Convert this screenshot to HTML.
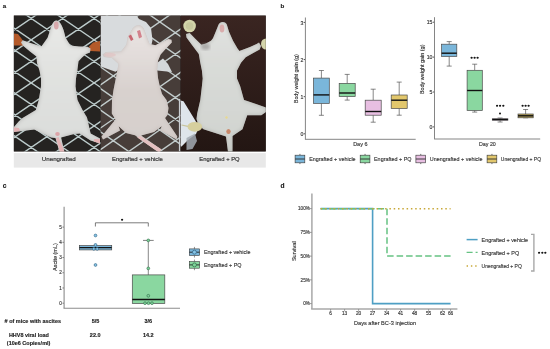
<!DOCTYPE html>
<html><head><meta charset="utf-8"><title>Figure</title>
<style>html,body{margin:0;padding:0;background:#fff;}svg{display:block;}</style></head>
<body><svg width="550" height="349" viewBox="0 0 550 349" font-family="'Liberation Sans', Arial, sans-serif">
<rect width="550" height="349" fill="#fff"/>
<defs>
<clipPath id="c1"><rect x="13.8" y="15.5" width="86.8" height="136.0"/></clipPath>
<clipPath id="c2"><rect x="100.6" y="15.5" width="79.9" height="136.0"/></clipPath>
<clipPath id="c3"><rect x="180.5" y="15.5" width="85.30000000000001" height="136.0"/></clipPath>
<filter id="soft" x="-10%" y="-10%" width="120%" height="120%"><feGaussianBlur stdDeviation="0.7"/></filter>
<filter id="meshsoft" x="-5%" y="-5%" width="110%" height="110%"><feGaussianBlur stdDeviation="0.35"/></filter>
<filter id="soft2" x="-10%" y="-10%" width="120%" height="120%"><feGaussianBlur stdDeviation="1.6"/></filter>
</defs>
<rect x="13.80" y="15.50" width="252.00" height="136.00" fill="#2c2624" stroke="none" stroke-width="0" />
<g clip-path="url(#c1)">
<rect x="13.80" y="15.50" width="86.80" height="136.00" fill="#252321" stroke="none" stroke-width="0" />
<path d="M8.8,-426.9L105.6,-360.7M8.8,-396.3L105.6,-462.5M8.8,-405.4L105.6,-339.2M8.8,-374.8L105.6,-441.0M8.8,-383.9L105.6,-317.7M8.8,-353.3L105.6,-419.5M8.8,-362.4L105.6,-296.2M8.8,-331.8L105.6,-398.0M8.8,-340.9L105.6,-274.7M8.8,-310.3L105.6,-376.5M8.8,-319.4L105.6,-253.2M8.8,-288.8L105.6,-355.0M8.8,-297.9L105.6,-231.7M8.8,-267.3L105.6,-333.5M8.8,-276.4L105.6,-210.2M8.8,-245.8L105.6,-312.0M8.8,-254.9L105.6,-188.7M8.8,-224.3L105.6,-290.5M8.8,-233.4L105.6,-167.2M8.8,-202.8L105.6,-269.0M8.8,-211.9L105.6,-145.7M8.8,-181.3L105.6,-247.5M8.8,-190.4L105.6,-124.2M8.8,-159.8L105.6,-226.0M8.8,-168.9L105.6,-102.7M8.8,-138.3L105.6,-204.5M8.8,-147.4L105.6,-81.2M8.8,-116.8L105.6,-183.0M8.8,-125.9L105.6,-59.7M8.8,-95.3L105.6,-161.5M8.8,-104.4L105.6,-38.2M8.8,-73.8L105.6,-140.0M8.8,-82.9L105.6,-16.7M8.8,-52.3L105.6,-118.5M8.8,-61.4L105.6,4.8M8.8,-30.8L105.6,-97.0M8.8,-39.9L105.6,26.3M8.8,-9.3L105.6,-75.5M8.8,-18.4L105.6,47.8M8.8,12.2L105.6,-54.0M8.8,3.1L105.6,69.3M8.8,33.7L105.6,-32.5M8.8,24.6L105.6,90.8M8.8,55.2L105.6,-11.0M8.8,46.1L105.6,112.3M8.8,76.7L105.6,10.5M8.8,67.6L105.6,133.8M8.8,98.2L105.6,32.0M8.8,89.1L105.6,155.3M8.8,119.7L105.6,53.5M8.8,110.6L105.6,176.8M8.8,141.2L105.6,75.0M8.8,132.1L105.6,198.3M8.8,162.7L105.6,96.5M8.8,153.6L105.6,219.8M8.8,184.2L105.6,118.0M8.8,175.1L105.6,241.3M8.8,205.7L105.6,139.5M8.8,196.6L105.6,262.8M8.8,227.2L105.6,161.0M8.8,218.1L105.6,284.3M8.8,248.7L105.6,182.5M8.8,239.6L105.6,305.8M8.8,270.2L105.6,204.0M8.8,261.1L105.6,327.3M8.8,291.7L105.6,225.5M8.8,282.6L105.6,348.8M8.8,313.2L105.6,247.0M8.8,304.1L105.6,370.3M8.8,334.7L105.6,268.5M8.8,325.6L105.6,391.8M8.8,356.2L105.6,290.0M8.8,347.1L105.6,413.3M8.8,377.7L105.6,311.5M8.8,368.6L105.6,434.8M8.8,399.2L105.6,333.0M8.8,390.1L105.6,456.3M8.8,420.7L105.6,354.5M8.8,411.6L105.6,477.8M8.8,442.2L105.6,376.0M8.8,433.1L105.6,499.3M8.8,463.7L105.6,397.5" stroke="#bccbcb" stroke-width="1.4" fill="none" filter="url(#meshsoft)"/>
<path d="M14,33.5 L18,34 L22.6,40 L23,45.6 L14,45.6 Z" fill="#b45a2a" filter="url(#soft)"/>
<path d="M100,41 L93,42.5 L89,46.5 L90,51 L100,51.5 Z" fill="#b45a2a" filter="url(#soft)"/>
<linearGradient id="gm1" gradientUnits="userSpaceOnUse" x1="0" y1="15.5" x2="0" y2="151.5"><stop offset="0" stop-color="#eaeae8"/><stop offset="0.35" stop-color="#e2e3e1"/><stop offset="1" stop-color="#dadcda"/></linearGradient>
<clipPath id="mk1"><path d="M56.2,20.5 C59.5,20.5 62,25 63.7,30.6 L65.6,37.8 L70.3,45.6 L79,46.5 L87.5,46.8 L90.5,48.5 L90,52.5 L86,54 L82,57.5 L78.5,61.3 L77.3,70.6 L76,78.5 L75.5,86.3 L77.5,100 L82.5,110 L87,117.5 L90.6,133.5 L100,138.5 L100,143.5 L90.6,140.5 L79.7,133.5 L74,134 L61,137.5 L64.5,152 L59.5,152 L55.5,138 L51,137.5 L34.3,129.5 L20.3,131.3 L14,131.8 L14,127 L18.7,121.5 L22.6,118 L35.9,110 L38.8,100 L41,86.3 L41,78.5 L39.5,70.6 L37,63 L36.5,56.6 L30,51.5 L23.4,46 L21,42.5 L22.6,40.2 L32,43.5 L41.4,46.4 L47.6,37.8 L50,30.6 C51.5,25 53.5,20.5 56.2,20.5 Z"/></clipPath>
<path d="M56.2,20.5 C59.5,20.5 62,25 63.7,30.6 L65.6,37.8 L70.3,45.6 L79,46.5 L87.5,46.8 L90.5,48.5 L90,52.5 L86,54 L82,57.5 L78.5,61.3 L77.3,70.6 L76,78.5 L75.5,86.3 L77.5,100 L82.5,110 L87,117.5 L90.6,133.5 L100,138.5 L100,143.5 L90.6,140.5 L79.7,133.5 L74,134 L61,137.5 L64.5,152 L59.5,152 L55.5,138 L51,137.5 L34.3,129.5 L20.3,131.3 L14,131.8 L14,127 L18.7,121.5 L22.6,118 L35.9,110 L38.8,100 L41,86.3 L41,78.5 L39.5,70.6 L37,63 L36.5,56.6 L30,51.5 L23.4,46 L21,42.5 L22.6,40.2 L32,43.5 L41.4,46.4 L47.6,37.8 L50,30.6 C51.5,25 53.5,20.5 56.2,20.5 Z" fill="#b4b4b2" filter="url(#soft)"/>
<g clip-path="url(#mk1)"><path d="M56.2,20.5 C59.5,20.5 62,25 63.7,30.6 L65.6,37.8 L70.3,45.6 L79,46.5 L87.5,46.8 L90.5,48.5 L90,52.5 L86,54 L82,57.5 L78.5,61.3 L77.3,70.6 L76,78.5 L75.5,86.3 L77.5,100 L82.5,110 L87,117.5 L90.6,133.5 L100,138.5 L100,143.5 L90.6,140.5 L79.7,133.5 L74,134 L61,137.5 L64.5,152 L59.5,152 L55.5,138 L51,137.5 L34.3,129.5 L20.3,131.3 L14,131.8 L14,127 L18.7,121.5 L22.6,118 L35.9,110 L38.8,100 L41,86.3 L41,78.5 L39.5,70.6 L37,63 L36.5,56.6 L30,51.5 L23.4,46 L21,42.5 L22.6,40.2 L32,43.5 L41.4,46.4 L47.6,37.8 L50,30.6 C51.5,25 53.5,20.5 56.2,20.5 Z" fill="url(#gm1)" filter="url(#inmk1)"/></g>
<filter id="inmk1" x="-20%" y="-20%" width="140%" height="140%"><feGaussianBlur stdDeviation="2.2"/></filter>
<ellipse cx="56.3" cy="25.5" rx="2.4" ry="4" fill="#d8a0a4" opacity="0.85" filter="url(#soft)"/>
<path d="M58.5,137 L64.5,152 L60,152 L56,138 Z" fill="#e4b4b6" filter="url(#soft)"/>
<ellipse cx="57.5" cy="134" rx="2.3" ry="2" fill="#dca4a8" filter="url(#soft)"/>
<path d="M14,127.5 L19,128 L20,131 L14,132 Z" fill="#e2b2b4" filter="url(#soft)"/>
<path d="M94,139 L100,139 L100,143.5 L94,141.5 Z" fill="#e2b2b4" filter="url(#soft)"/>
</g>
<g clip-path="url(#c2)">
<rect x="100.60" y="15.50" width="79.90" height="136.00" fill="#473d39" stroke="none" stroke-width="0" />
<path d="M95.6,-454.8L185.5,-392.2M95.6,-365.4L185.5,-428.0M95.6,-433.2L185.5,-370.6M95.6,-343.8L185.5,-406.4M95.6,-411.6L185.5,-349.0M95.6,-322.2L185.5,-384.8M95.6,-390.0L185.5,-327.4M95.6,-300.6L185.5,-363.2M95.6,-368.4L185.5,-305.8M95.6,-279.0L185.5,-341.6M95.6,-346.8L185.5,-284.2M95.6,-257.4L185.5,-320.0M95.6,-325.2L185.5,-262.6M95.6,-235.8L185.5,-298.4M95.6,-303.6L185.5,-241.0M95.6,-214.2L185.5,-276.8M95.6,-282.0L185.5,-219.4M95.6,-192.6L185.5,-255.2M95.6,-260.4L185.5,-197.8M95.6,-171.0L185.5,-233.6M95.6,-238.8L185.5,-176.2M95.6,-149.4L185.5,-212.0M95.6,-217.2L185.5,-154.6M95.6,-127.8L185.5,-190.4M95.6,-195.6L185.5,-133.0M95.6,-106.2L185.5,-168.8M95.6,-174.0L185.5,-111.4M95.6,-84.6L185.5,-147.2M95.6,-152.4L185.5,-89.8M95.6,-63.0L185.5,-125.6M95.6,-130.8L185.5,-68.2M95.6,-41.4L185.5,-104.0M95.6,-109.2L185.5,-46.6M95.6,-19.8L185.5,-82.4M95.6,-87.6L185.5,-25.0M95.6,1.8L185.5,-60.8M95.6,-66.0L185.5,-3.4M95.6,23.4L185.5,-39.2M95.6,-44.4L185.5,18.2M95.6,45.0L185.5,-17.6M95.6,-22.8L185.5,39.8M95.6,66.6L185.5,4.0M95.6,-1.2L185.5,61.4M95.6,88.2L185.5,25.6M95.6,20.4L185.5,83.0M95.6,109.8L185.5,47.2M95.6,42.0L185.5,104.6M95.6,131.4L185.5,68.8M95.6,63.6L185.5,126.2M95.6,153.0L185.5,90.4M95.6,85.2L185.5,147.8M95.6,174.6L185.5,112.0M95.6,106.8L185.5,169.4M95.6,196.2L185.5,133.6M95.6,128.4L185.5,191.0M95.6,217.8L185.5,155.2M95.6,150.0L185.5,212.6M95.6,239.4L185.5,176.8M95.6,171.6L185.5,234.2M95.6,261.0L185.5,198.4M95.6,193.2L185.5,255.8M95.6,282.6L185.5,220.0M95.6,214.8L185.5,277.4M95.6,304.2L185.5,241.6M95.6,236.4L185.5,299.0M95.6,325.8L185.5,263.2M95.6,258.0L185.5,320.6M95.6,347.4L185.5,284.8M95.6,279.6L185.5,342.2M95.6,369.0L185.5,306.4M95.6,301.2L185.5,363.8M95.6,390.6L185.5,328.0M95.6,322.8L185.5,385.4M95.6,412.2L185.5,349.6M95.6,344.4L185.5,407.0M95.6,433.8L185.5,371.2M95.6,366.0L185.5,428.6M95.6,455.4L185.5,392.8M95.6,387.6L185.5,450.2M95.6,477.0L185.5,414.4M95.6,409.2L185.5,471.8M95.6,498.6L185.5,436.0" stroke="#c2cccc" stroke-width="1.4" fill="none" filter="url(#meshsoft)"/>
<path d="M100.6,15.5 L136.5,15.5 L139,19 L146,22 L151,28 L152.5,40 L151,47 L138,58 L124,66 L115.5,71.7 L100.6,66.5 Z" fill="#d8dbdd" filter="url(#soft)"/>
<path d="M157,63 L163,58.5 L168,64 L172,72 L157,70.5 Z" fill="#d4d8da" filter="url(#soft)"/>
<linearGradient id="gm2" gradientUnits="userSpaceOnUse" x1="0" y1="15.5" x2="0" y2="151.5"><stop offset="0" stop-color="#ece8e6"/><stop offset="0.3" stop-color="#e2dcda"/><stop offset="0.55" stop-color="#d8d1ce"/><stop offset="1" stop-color="#d6cfcc"/></linearGradient>
<clipPath id="mk2"><path d="M138.5,25.3 C141,25.3 143.5,27 144.7,31 L147,37.3 L149.5,44 L155.5,45.3 L162,42 L168.4,39 L171.5,39.8 L171.8,42.5 L166,48.5 L160.6,54.5 L158,60.8 L157.2,69.4 L158,78 L159.8,86.6 L162,94 L166.5,100 L168.5,108 L167.5,115 L165,118 L177.3,136.5 L176.5,139.5 L160.3,130.5 L161.8,126 L154,132 L141,135.5 L161.5,149.5 L159,152.5 L137.5,137.5 L136,135.5 L126,133 L118.5,126 L120,130.5 L103,139.5 L101.5,136.5 L115.5,119.6 L111.8,113.5 L112,100 L113.5,90 L116.5,75 L118.5,64 L112,58 L104,57 L102.5,54.5 L106,52 L121,51.5 L126.5,44.5 L127.5,37.3 L133,28 C135,26 136.5,25.3 138.5,25.3 Z"/></clipPath>
<path d="M138.5,25.3 C141,25.3 143.5,27 144.7,31 L147,37.3 L149.5,44 L155.5,45.3 L162,42 L168.4,39 L171.5,39.8 L171.8,42.5 L166,48.5 L160.6,54.5 L158,60.8 L157.2,69.4 L158,78 L159.8,86.6 L162,94 L166.5,100 L168.5,108 L167.5,115 L165,118 L177.3,136.5 L176.5,139.5 L160.3,130.5 L161.8,126 L154,132 L141,135.5 L161.5,149.5 L159,152.5 L137.5,137.5 L136,135.5 L126,133 L118.5,126 L120,130.5 L103,139.5 L101.5,136.5 L115.5,119.6 L111.8,113.5 L112,100 L113.5,90 L116.5,75 L118.5,64 L112,58 L104,57 L102.5,54.5 L106,52 L121,51.5 L126.5,44.5 L127.5,37.3 L133,28 C135,26 136.5,25.3 138.5,25.3 Z" fill="#c4bcb9" filter="url(#soft)"/>
<g clip-path="url(#mk2)"><path d="M138.5,25.3 C141,25.3 143.5,27 144.7,31 L147,37.3 L149.5,44 L155.5,45.3 L162,42 L168.4,39 L171.5,39.8 L171.8,42.5 L166,48.5 L160.6,54.5 L158,60.8 L157.2,69.4 L158,78 L159.8,86.6 L162,94 L166.5,100 L168.5,108 L167.5,115 L165,118 L177.3,136.5 L176.5,139.5 L160.3,130.5 L161.8,126 L154,132 L141,135.5 L161.5,149.5 L159,152.5 L137.5,137.5 L136,135.5 L126,133 L118.5,126 L120,130.5 L103,139.5 L101.5,136.5 L115.5,119.6 L111.8,113.5 L112,100 L113.5,90 L116.5,75 L118.5,64 L112,58 L104,57 L102.5,54.5 L106,52 L121,51.5 L126.5,44.5 L127.5,37.3 L133,28 C135,26 136.5,25.3 138.5,25.3 Z" fill="url(#gm2)" filter="url(#inmk2)"/></g>
<filter id="inmk2" x="-20%" y="-20%" width="140%" height="140%"><feGaussianBlur stdDeviation="2.2"/></filter>
<path d="M128.5,36 L131,34.5 L133.5,39.5 L131,41 Z" fill="#c04050" opacity="0.75" filter="url(#soft)"/>
<path d="M137,31 L140,30 L142,37 L139,38.5 Z" fill="#c85060" opacity="0.65" filter="url(#soft)"/>
<ellipse cx="110" cy="54.8" rx="6" ry="2.0" fill="#e2c0c0" opacity="0.6" filter="url(#soft)"/>
<path d="M140,136 L161.5,149.5 L159,152.5 L137.5,137.5 Z" fill="#e4c0c0" filter="url(#soft)"/>
<rect x="178.90" y="99.00" width="1.70" height="52.50" fill="#c9cdd1" stroke="none" stroke-width="0" />
</g>
<linearGradient id="g3" x1="0" y1="0" x2="0" y2="1"><stop offset="0" stop-color="#3a2521"/><stop offset="1" stop-color="#231613"/></linearGradient>
<g clip-path="url(#c3)">
<rect x="180.50" y="15.50" width="85.30" height="136.00" fill="url(#g3)" stroke="none" stroke-width="0" />
<path d="M180.5,100.5 L183.5,101.3 L195.6,121 L198.5,128 L196,134 L188,140 L181.5,146.5 L180.5,146.5 Z" fill="#dfe5eb" filter="url(#soft)"/>
<path d="M186.5,138 L195,133.5 L197,141 L192.5,149 L186.5,150 Z" fill="#a4abb3" opacity="0.85" filter="url(#soft)"/>
<linearGradient id="gm3" gradientUnits="userSpaceOnUse" x1="0" y1="15.5" x2="0" y2="151.5"><stop offset="0" stop-color="#e4e5e3"/><stop offset="0.3" stop-color="#dadcd9"/><stop offset="1" stop-color="#d0d3cf"/></linearGradient>
<clipPath id="mk3"><path d="M222.6,22 C225,22 226,23 226.8,24.5 L229,31.8 L233,40.8 L237.5,48.5 L239.4,51 L250,47 L256.6,44 L259,42.5 L261,46 L259.7,49.4 L245.7,57.2 L241,62.8 L237,70.6 L237,78.5 L240.2,86.3 L244,100 L247.2,101 L266,107.4 L266,112 L261.3,115.2 L247.2,115.2 L242.5,129.3 L232.5,136 L232.5,152 L228,152 L226,136.5 L203.5,129.3 L198.5,125 L196.5,119 L197.2,113.6 L200.3,100 L201.9,86.3 L202.7,78.5 L201.9,70.6 L200.3,62.8 L198.8,54 L192,45 L186.5,37.5 L186,34 L189.7,33 L195,38.5 L201.4,44.7 L206,43.5 L211,40.8 L213,38.2 L216.2,30.5 L218.6,24.5 C219.5,23 220.5,22 222.6,22 Z"/></clipPath>
<path d="M222.6,22 C225,22 226,23 226.8,24.5 L229,31.8 L233,40.8 L237.5,48.5 L239.4,51 L250,47 L256.6,44 L259,42.5 L261,46 L259.7,49.4 L245.7,57.2 L241,62.8 L237,70.6 L237,78.5 L240.2,86.3 L244,100 L247.2,101 L266,107.4 L266,112 L261.3,115.2 L247.2,115.2 L242.5,129.3 L232.5,136 L232.5,152 L228,152 L226,136.5 L203.5,129.3 L198.5,125 L196.5,119 L197.2,113.6 L200.3,100 L201.9,86.3 L202.7,78.5 L201.9,70.6 L200.3,62.8 L198.8,54 L192,45 L186.5,37.5 L186,34 L189.7,33 L195,38.5 L201.4,44.7 L206,43.5 L211,40.8 L213,38.2 L216.2,30.5 L218.6,24.5 C219.5,23 220.5,22 222.6,22 Z" fill="#b2b4b0" filter="url(#soft)"/>
<g clip-path="url(#mk3)"><path d="M222.6,22 C225,22 226,23 226.8,24.5 L229,31.8 L233,40.8 L237.5,48.5 L239.4,51 L250,47 L256.6,44 L259,42.5 L261,46 L259.7,49.4 L245.7,57.2 L241,62.8 L237,70.6 L237,78.5 L240.2,86.3 L244,100 L247.2,101 L266,107.4 L266,112 L261.3,115.2 L247.2,115.2 L242.5,129.3 L232.5,136 L232.5,152 L228,152 L226,136.5 L203.5,129.3 L198.5,125 L196.5,119 L197.2,113.6 L200.3,100 L201.9,86.3 L202.7,78.5 L201.9,70.6 L200.3,62.8 L198.8,54 L192,45 L186.5,37.5 L186,34 L189.7,33 L195,38.5 L201.4,44.7 L206,43.5 L211,40.8 L213,38.2 L216.2,30.5 L218.6,24.5 C219.5,23 220.5,22 222.6,22 Z" fill="url(#gm3)" filter="url(#inmk3)"/></g>
<filter id="inmk3" x="-20%" y="-20%" width="140%" height="140%"><feGaussianBlur stdDeviation="2.2"/></filter>
<ellipse cx="205.5" cy="46.8" rx="4.5" ry="3.2" fill="#8e8c8a" opacity="0.6" filter="url(#soft2)"/>
<ellipse cx="222" cy="28.5" rx="2.4" ry="4" fill="#d8a0a0" opacity="0.8" filter="url(#soft)"/>
<ellipse cx="228.5" cy="131.5" rx="2.2" ry="2.5" fill="#c88060" opacity="0.9" filter="url(#soft)"/>
<ellipse cx="226.5" cy="117.5" rx="1.2" ry="1.2" fill="#e8d890" filter="url(#soft)"/>
<circle cx="189.6" cy="26" r="6.3" fill="#d4d4aa" filter="url(#soft)"/>
<circle cx="189.6" cy="26" r="3.8" fill="#c8c89e" filter="url(#soft)"/>
<ellipse cx="266" cy="44" rx="5" ry="5.5" fill="#d4d4aa" filter="url(#soft)"/>
<path d="M181.5,125 L188,126.3" stroke="#c8c49c" stroke-width="1.2"/>
<ellipse cx="194.8" cy="126.8" rx="7.3" ry="4.9" fill="#d6cf9e" filter="url(#soft)"/>
</g>
<rect x="13.80" y="153.10" width="252.00" height="14.50" fill="#e8e8e8" stroke="none" stroke-width="0" />
<text x="58.80" y="161.10" font-size="5.95" text-anchor="middle" font-weight="normal" fill="#3c3c3c" stroke="#3c3c3c" stroke-width="0.22" textLength="34.0" lengthAdjust="spacingAndGlyphs">Unengrafted</text>
<text x="137.40" y="161.10" font-size="5.95" text-anchor="middle" font-weight="normal" fill="#3c3c3c" stroke="#3c3c3c" stroke-width="0.22" textLength="50.9" lengthAdjust="spacingAndGlyphs">Engrafted + vehicle</text>
<text x="219.50" y="161.10" font-size="5.95" text-anchor="middle" font-weight="normal" fill="#3c3c3c" stroke="#3c3c3c" stroke-width="0.22" textLength="40.3" lengthAdjust="spacingAndGlyphs">Engrafted + PQ</text>
<text x="2.80" y="8.00" font-size="6.2" text-anchor="start" font-weight="bold" fill="#1a1a1a" stroke="#1a1a1a" stroke-width="0.14" >a</text>
<text x="280.60" y="8.10" font-size="6.2" text-anchor="start" font-weight="bold" fill="#1a1a1a" stroke="#1a1a1a" stroke-width="0.14" >b</text>
<text x="2.70" y="188.00" font-size="6.6" text-anchor="start" font-weight="bold" fill="#1a1a1a" stroke="#1a1a1a" stroke-width="0.14" >c</text>
<text x="280.50" y="188.00" font-size="6.6" text-anchor="start" font-weight="bold" fill="#1a1a1a" stroke="#1a1a1a" stroke-width="0.14" >d</text>
<line x1="305.40" y1="17.50" x2="305.40" y2="139.30" stroke="#858585" stroke-width="1.0" />
<line x1="304.95" y1="139.30" x2="415.70" y2="139.30" stroke="#858585" stroke-width="1.0" />
<line x1="303.70" y1="133.80" x2="305.00" y2="133.80" stroke="#2a2a2a" stroke-width="0.8" />
<text x="303.40" y="136.00" font-size="5.2" text-anchor="end" font-weight="normal" fill="#333" stroke="#333" stroke-width="0.14" >0</text>
<line x1="303.70" y1="96.67" x2="305.00" y2="96.67" stroke="#2a2a2a" stroke-width="0.8" />
<text x="303.40" y="98.87" font-size="5.2" text-anchor="end" font-weight="normal" fill="#333" stroke="#333" stroke-width="0.14" >1</text>
<line x1="303.70" y1="59.54" x2="305.00" y2="59.54" stroke="#2a2a2a" stroke-width="0.8" />
<text x="303.40" y="61.74" font-size="5.2" text-anchor="end" font-weight="normal" fill="#333" stroke="#333" stroke-width="0.14" >2</text>
<line x1="303.70" y1="22.41" x2="305.00" y2="22.41" stroke="#2a2a2a" stroke-width="0.8" />
<text x="303.40" y="24.61" font-size="5.2" text-anchor="end" font-weight="normal" fill="#333" stroke="#333" stroke-width="0.14" >3</text>
<line x1="321.40" y1="70.50" x2="321.40" y2="78.10" stroke="#555" stroke-width="0.7" />
<line x1="321.40" y1="103.40" x2="321.40" y2="115.30" stroke="#555" stroke-width="0.7" />
<line x1="318.90" y1="70.50" x2="323.90" y2="70.50" stroke="#555" stroke-width="0.7" />
<line x1="318.90" y1="115.30" x2="323.90" y2="115.30" stroke="#555" stroke-width="0.7" />
<rect x="313.50" y="78.10" width="15.80" height="25.30" fill="#7ab6da" stroke="#4a4a4a" stroke-width="0.7" />
<line x1="313.50" y1="94.90" x2="329.30" y2="94.90" stroke="#111" stroke-width="1.4" />
<line x1="347.20" y1="74.40" x2="347.20" y2="83.40" stroke="#555" stroke-width="0.7" />
<line x1="347.20" y1="96.50" x2="347.20" y2="100.10" stroke="#555" stroke-width="0.7" />
<line x1="344.70" y1="74.40" x2="349.70" y2="74.40" stroke="#555" stroke-width="0.7" />
<line x1="344.70" y1="100.10" x2="349.70" y2="100.10" stroke="#555" stroke-width="0.7" />
<rect x="339.20" y="83.40" width="16.00" height="13.10" fill="#8ad7a0" stroke="#4a4a4a" stroke-width="0.7" />
<line x1="339.20" y1="93.00" x2="355.20" y2="93.00" stroke="#111" stroke-width="1.4" />
<line x1="373.20" y1="89.20" x2="373.20" y2="100.20" stroke="#555" stroke-width="0.7" />
<line x1="373.20" y1="115.20" x2="373.20" y2="122.20" stroke="#555" stroke-width="0.7" />
<line x1="370.70" y1="89.20" x2="375.70" y2="89.20" stroke="#555" stroke-width="0.7" />
<line x1="370.70" y1="122.20" x2="375.70" y2="122.20" stroke="#555" stroke-width="0.7" />
<rect x="365.20" y="100.20" width="16.00" height="15.00" fill="#e8bfe2" stroke="#4a4a4a" stroke-width="0.7" />
<line x1="365.20" y1="111.50" x2="381.20" y2="111.50" stroke="#111" stroke-width="1.4" />
<line x1="399.20" y1="82.10" x2="399.20" y2="95.00" stroke="#555" stroke-width="0.7" />
<line x1="399.20" y1="108.50" x2="399.20" y2="115.20" stroke="#555" stroke-width="0.7" />
<line x1="396.70" y1="82.10" x2="401.70" y2="82.10" stroke="#555" stroke-width="0.7" />
<line x1="396.70" y1="115.20" x2="401.70" y2="115.20" stroke="#555" stroke-width="0.7" />
<rect x="391.20" y="95.00" width="16.00" height="13.50" fill="#e2c76c" stroke="#4a4a4a" stroke-width="0.7" />
<line x1="391.20" y1="100.20" x2="407.20" y2="100.20" stroke="#111" stroke-width="1.4" />
<text x="360.30" y="145.60" font-size="5.7" text-anchor="middle" font-weight="normal" fill="#333" stroke="#333" stroke-width="0.14" textLength="14.3" lengthAdjust="spacingAndGlyphs">Day 6</text>
<text x="298.50" y="78.70" font-size="5.7" text-anchor="middle" font-weight="normal" fill="#333" stroke="#333" stroke-width="0.14" textLength="49" lengthAdjust="spacingAndGlyphs" transform="rotate(-90 298.5 78.7)">Body weight gain (g)</text>
<line x1="434.50" y1="17.20" x2="434.50" y2="139.00" stroke="#858585" stroke-width="1.0" />
<line x1="434.05" y1="139.00" x2="540.20" y2="139.00" stroke="#858585" stroke-width="1.0" />
<line x1="432.80" y1="126.90" x2="434.10" y2="126.90" stroke="#2a2a2a" stroke-width="0.8" />
<text x="432.50" y="129.10" font-size="5.2" text-anchor="end" font-weight="normal" fill="#333" stroke="#333" stroke-width="0.14" >0</text>
<line x1="432.80" y1="92.00" x2="434.10" y2="92.00" stroke="#2a2a2a" stroke-width="0.8" />
<text x="432.50" y="94.20" font-size="5.2" text-anchor="end" font-weight="normal" fill="#333" stroke="#333" stroke-width="0.14" >5</text>
<line x1="432.80" y1="57.10" x2="434.10" y2="57.10" stroke="#2a2a2a" stroke-width="0.8" />
<text x="432.50" y="59.30" font-size="5.2" text-anchor="end" font-weight="normal" fill="#333" stroke="#333" stroke-width="0.14" >10</text>
<line x1="432.80" y1="22.20" x2="434.10" y2="22.20" stroke="#2a2a2a" stroke-width="0.8" />
<text x="432.50" y="24.40" font-size="5.2" text-anchor="end" font-weight="normal" fill="#333" stroke="#333" stroke-width="0.14" >15</text>
<line x1="449.20" y1="41.60" x2="449.20" y2="44.20" stroke="#555" stroke-width="0.7" />
<line x1="449.20" y1="56.40" x2="449.20" y2="66.10" stroke="#555" stroke-width="0.7" />
<line x1="446.70" y1="41.60" x2="451.70" y2="41.60" stroke="#555" stroke-width="0.7" />
<line x1="446.70" y1="66.10" x2="451.70" y2="66.10" stroke="#555" stroke-width="0.7" />
<rect x="441.60" y="44.20" width="15.20" height="12.20" fill="#7ab6da" stroke="#4a4a4a" stroke-width="0.7" />
<line x1="441.60" y1="53.20" x2="456.80" y2="53.20" stroke="#111" stroke-width="1.4" />
<line x1="474.70" y1="64.20" x2="474.70" y2="70.30" stroke="#555" stroke-width="0.7" />
<line x1="474.70" y1="110.40" x2="474.70" y2="112.10" stroke="#555" stroke-width="0.7" />
<line x1="472.20" y1="64.20" x2="477.20" y2="64.20" stroke="#555" stroke-width="0.7" />
<line x1="472.20" y1="112.10" x2="477.20" y2="112.10" stroke="#555" stroke-width="0.7" />
<rect x="467.10" y="70.30" width="15.20" height="40.10" fill="#8ad7a0" stroke="#4a4a4a" stroke-width="0.7" />
<line x1="467.10" y1="90.50" x2="482.30" y2="90.50" stroke="#111" stroke-width="1.4" />
<line x1="500.10" y1="118.00" x2="500.10" y2="118.80" stroke="#555" stroke-width="0.7" />
<line x1="500.10" y1="120.20" x2="500.10" y2="122.00" stroke="#555" stroke-width="0.7" />
<line x1="497.60" y1="118.00" x2="502.60" y2="118.00" stroke="#555" stroke-width="0.7" />
<line x1="497.60" y1="122.00" x2="502.60" y2="122.00" stroke="#555" stroke-width="0.7" />
<rect x="492.30" y="118.80" width="15.60" height="1.40" fill="#e8bfe2" stroke="#4a4a4a" stroke-width="0.7" />
<line x1="492.30" y1="119.50" x2="507.90" y2="119.50" stroke="#111" stroke-width="1.4" />
<line x1="525.60" y1="109.50" x2="525.60" y2="114.00" stroke="#555" stroke-width="0.7" />
<line x1="525.60" y1="117.80" x2="525.60" y2="117.80" stroke="#555" stroke-width="0.7" />
<line x1="523.10" y1="109.50" x2="528.10" y2="109.50" stroke="#555" stroke-width="0.7" />
<line x1="523.10" y1="117.80" x2="528.10" y2="117.80" stroke="#555" stroke-width="0.7" />
<rect x="518.00" y="114.00" width="15.20" height="3.80" fill="#b8a456" stroke="#4a4a4a" stroke-width="0.7" />
<line x1="518.00" y1="115.80" x2="533.20" y2="115.80" stroke="#111" stroke-width="1.4" />
<circle cx="500" cy="113.5" r="1.0" fill="#111"/>
<text x="470.66" y="59.96" font-size="4.3" font-weight="bold" letter-spacing="1.43" fill="#151515" stroke="#151515" stroke-width="0.5" stroke-linejoin="round">***</text>
<text x="496.26" y="108.16" font-size="4.3" font-weight="bold" letter-spacing="1.43" fill="#151515" stroke="#151515" stroke-width="0.5" stroke-linejoin="round">***</text>
<text x="521.66" y="107.66" font-size="4.3" font-weight="bold" letter-spacing="1.43" fill="#151515" stroke="#151515" stroke-width="0.5" stroke-linejoin="round">***</text>
<text x="487.40" y="145.60" font-size="5.7" text-anchor="middle" font-weight="normal" fill="#333" stroke="#333" stroke-width="0.14" textLength="16.8" lengthAdjust="spacingAndGlyphs">Day 20</text>
<text x="424.00" y="69.30" font-size="5.7" text-anchor="middle" font-weight="normal" fill="#333" stroke="#333" stroke-width="0.14" textLength="49.5" lengthAdjust="spacingAndGlyphs" transform="rotate(-90 424.0 69.3)">Body weight gain (g)</text>
<line x1="299.95" y1="153.90" x2="299.95" y2="155.20" stroke="#333" stroke-width="0.7" />
<line x1="299.95" y1="162.80" x2="299.95" y2="164.10" stroke="#333" stroke-width="0.7" />
<rect x="295.10" y="155.20" width="9.70" height="7.60" fill="#7ab6da" stroke="#3f3f3f" stroke-width="0.65" />
<line x1="295.10" y1="159.00" x2="304.80" y2="159.00" stroke="#2a2a2a" stroke-width="0.9" />
<text x="309.20" y="160.60" font-size="5.8" text-anchor="start" font-weight="normal" fill="#333" stroke="#333" stroke-width="0.14" textLength="46.4" lengthAdjust="spacingAndGlyphs">Engrafted + vehicle</text>
<line x1="365.05" y1="153.90" x2="365.05" y2="155.20" stroke="#333" stroke-width="0.7" />
<line x1="365.05" y1="162.80" x2="365.05" y2="164.10" stroke="#333" stroke-width="0.7" />
<rect x="360.20" y="155.20" width="9.70" height="7.60" fill="#8ad7a0" stroke="#3f3f3f" stroke-width="0.65" />
<line x1="360.20" y1="159.00" x2="369.90" y2="159.00" stroke="#2a2a2a" stroke-width="0.9" />
<text x="374.00" y="160.60" font-size="5.8" text-anchor="start" font-weight="normal" fill="#333" stroke="#333" stroke-width="0.14" textLength="37.5" lengthAdjust="spacingAndGlyphs">Engrafted + PQ</text>
<line x1="420.75" y1="153.90" x2="420.75" y2="155.20" stroke="#333" stroke-width="0.7" />
<line x1="420.75" y1="162.80" x2="420.75" y2="164.10" stroke="#333" stroke-width="0.7" />
<rect x="415.90" y="155.20" width="9.70" height="7.60" fill="#e8bfe2" stroke="#3f3f3f" stroke-width="0.65" />
<line x1="415.90" y1="159.00" x2="425.60" y2="159.00" stroke="#2a2a2a" stroke-width="0.9" />
<text x="429.80" y="160.60" font-size="5.8" text-anchor="start" font-weight="normal" fill="#333" stroke="#333" stroke-width="0.14" textLength="52.7" lengthAdjust="spacingAndGlyphs">Unengrafted + vehicle</text>
<line x1="491.95" y1="153.90" x2="491.95" y2="155.20" stroke="#333" stroke-width="0.7" />
<line x1="491.95" y1="162.80" x2="491.95" y2="164.10" stroke="#333" stroke-width="0.7" />
<rect x="487.10" y="155.20" width="9.70" height="7.60" fill="#e2c76c" stroke="#3f3f3f" stroke-width="0.65" />
<line x1="487.10" y1="159.00" x2="496.80" y2="159.00" stroke="#2a2a2a" stroke-width="0.9" />
<text x="500.80" y="160.60" font-size="5.8" text-anchor="start" font-weight="normal" fill="#333" stroke="#333" stroke-width="0.14" textLength="40.2" lengthAdjust="spacingAndGlyphs">Unengrafted + PQ</text>
<line x1="64.10" y1="206.80" x2="64.10" y2="308.30" stroke="#8c8c8c" stroke-width="1.1" />
<line x1="63.55" y1="308.30" x2="180.00" y2="308.30" stroke="#8c8c8c" stroke-width="1.1" />
<line x1="62.60" y1="303.20" x2="63.60" y2="303.20" stroke="#2a2a2a" stroke-width="0.8" />
<text x="61.90" y="304.90" font-size="4.6" text-anchor="end" font-weight="normal" fill="#333" stroke="#333" stroke-width="0.14" >0</text>
<line x1="62.60" y1="287.98" x2="63.60" y2="287.98" stroke="#2a2a2a" stroke-width="0.8" />
<text x="61.90" y="289.68" font-size="4.6" text-anchor="end" font-weight="normal" fill="#333" stroke="#333" stroke-width="0.14" >1</text>
<line x1="62.60" y1="272.76" x2="63.60" y2="272.76" stroke="#2a2a2a" stroke-width="0.8" />
<text x="61.90" y="274.46" font-size="4.6" text-anchor="end" font-weight="normal" fill="#333" stroke="#333" stroke-width="0.14" >2</text>
<line x1="62.60" y1="257.54" x2="63.60" y2="257.54" stroke="#2a2a2a" stroke-width="0.8" />
<text x="61.90" y="259.24" font-size="4.6" text-anchor="end" font-weight="normal" fill="#333" stroke="#333" stroke-width="0.14" >3</text>
<line x1="62.60" y1="242.32" x2="63.60" y2="242.32" stroke="#2a2a2a" stroke-width="0.8" />
<text x="61.90" y="244.02" font-size="4.6" text-anchor="end" font-weight="normal" fill="#333" stroke="#333" stroke-width="0.14" >4</text>
<line x1="62.60" y1="227.10" x2="63.60" y2="227.10" stroke="#2a2a2a" stroke-width="0.8" />
<text x="61.90" y="228.80" font-size="4.6" text-anchor="end" font-weight="normal" fill="#333" stroke="#333" stroke-width="0.14" >5</text>
<text x="57.50" y="257.10" font-size="5.7" text-anchor="middle" font-weight="normal" fill="#333" stroke="#333" stroke-width="0.14" textLength="27.8" lengthAdjust="spacingAndGlyphs" transform="rotate(-90 57.5 257.1)">Ascite (mL)</text>
<rect x="79.40" y="245.60" width="32.30" height="4.30" fill="#7ab6da" stroke="#4a4a4a" stroke-width="0.7" />
<line x1="79.40" y1="247.60" x2="111.70" y2="247.60" stroke="#111" stroke-width="1.2" />
<line x1="148.30" y1="240.40" x2="148.30" y2="274.90" stroke="#555" stroke-width="0.7" />
<line x1="143.00" y1="240.40" x2="153.70" y2="240.40" stroke="#555" stroke-width="0.75" />
<rect x="132.30" y="274.90" width="32.50" height="28.60" fill="#8ad7a0" stroke="#4a4a4a" stroke-width="0.7" />
<line x1="132.30" y1="299.60" x2="164.80" y2="299.60" stroke="#111" stroke-width="1.5" />
<circle cx="95.5" cy="235.5" r="1.4" fill="#86c4e6" stroke="#2f5f80" stroke-width="0.6"/>
<circle cx="95.5" cy="244.9" r="1.4" fill="#86c4e6" stroke="#2f5f80" stroke-width="0.6"/>
<circle cx="93.8" cy="248.9" r="1.4" fill="#86c4e6" stroke="#2f5f80" stroke-width="0.6"/>
<circle cx="97.2" cy="248.9" r="1.4" fill="#86c4e6" stroke="#2f5f80" stroke-width="0.6"/>
<circle cx="95.5" cy="265.0" r="1.4" fill="#86c4e6" stroke="#2f5f80" stroke-width="0.6"/>
<circle cx="148.3" cy="240.4" r="1.4" fill="#7fd49a" stroke="#2f6a48" stroke-width="0.6"/>
<circle cx="148.3" cy="268.4" r="1.4" fill="#7fd49a" stroke="#2f6a48" stroke-width="0.6"/>
<circle cx="148.3" cy="295.8" r="1.4" fill="#7fd49a" stroke="#2f6a48" stroke-width="0.6"/>
<circle cx="145.0" cy="303.2" r="1.4" fill="#7fd49a" stroke="#2f6a48" stroke-width="0.6"/>
<circle cx="148.5" cy="303.2" r="1.4" fill="#7fd49a" stroke="#2f6a48" stroke-width="0.6"/>
<circle cx="152.0" cy="303.2" r="1.4" fill="#7fd49a" stroke="#2f6a48" stroke-width="0.6"/>
<path d="M95.4,226.5 L95.4,222.8 L148.3,222.8 L148.3,226.5" fill="none" stroke="#444" stroke-width="0.7"/>
<text x="121.14" y="221.51" font-size="4.4" font-weight="bold" letter-spacing="1.39" fill="#151515" stroke="#151515" stroke-width="0.5" stroke-linejoin="round">*</text>
<line x1="194.45" y1="246.90" x2="194.45" y2="248.90" stroke="#444" stroke-width="0.6" />
<line x1="194.45" y1="255.50" x2="194.45" y2="257.50" stroke="#444" stroke-width="0.6" />
<rect x="189.30" y="248.90" width="10.30" height="6.60" fill="#7ab6da" stroke="#3a3a3a" stroke-width="0.6" />
<line x1="189.30" y1="252.20" x2="199.60" y2="252.20" stroke="#222" stroke-width="0.9" />
<circle cx="194.45" cy="252.20" r="2.0" fill="#86c4e6" stroke="#2f5f80" stroke-width="0.7"/>
<line x1="194.45" y1="259.60" x2="194.45" y2="261.60" stroke="#444" stroke-width="0.6" />
<line x1="194.45" y1="268.20" x2="194.45" y2="270.20" stroke="#444" stroke-width="0.6" />
<rect x="189.30" y="261.60" width="10.30" height="6.60" fill="#8ad7a0" stroke="#3a3a3a" stroke-width="0.6" />
<line x1="189.30" y1="264.90" x2="199.60" y2="264.90" stroke="#222" stroke-width="0.9" />
<circle cx="194.45" cy="264.90" r="2.0" fill="#7fd49a" stroke="#2f6a48" stroke-width="0.7"/>
<text x="203.90" y="254.30" font-size="5.9" text-anchor="start" font-weight="normal" fill="#333" stroke="#333" stroke-width="0.14" textLength="46.6" lengthAdjust="spacingAndGlyphs">Engrafted + vehicle</text>
<text x="203.90" y="267.30" font-size="5.9" text-anchor="start" font-weight="normal" fill="#333" stroke="#333" stroke-width="0.14" textLength="37.6" lengthAdjust="spacingAndGlyphs">Engrafted + PQ</text>
<text x="4.60" y="322.90" font-size="5.5" text-anchor="start" font-weight="bold" fill="#222" stroke="#222" stroke-width="0.14" textLength="56.4" lengthAdjust="spacingAndGlyphs"># of mice with ascites</text>
<text x="95.60" y="322.90" font-size="5.5" text-anchor="middle" font-weight="bold" fill="#222" stroke="#222" stroke-width="0.14" >5/5</text>
<text x="148.30" y="322.90" font-size="5.5" text-anchor="middle" font-weight="bold" fill="#222" stroke="#222" stroke-width="0.14" >3/6</text>
<text x="28.90" y="337.10" font-size="5.5" text-anchor="middle" font-weight="bold" fill="#222" stroke="#222" stroke-width="0.14" textLength="40" lengthAdjust="spacingAndGlyphs">HHV8 viral load</text>
<text x="28.60" y="344.70" font-size="5.5" text-anchor="middle" font-weight="bold" fill="#222" stroke="#222" stroke-width="0.14" textLength="43.5" lengthAdjust="spacingAndGlyphs">(10e6 Copies/ml)</text>
<text x="95.20" y="337.10" font-size="5.5" text-anchor="middle" font-weight="bold" fill="#222" stroke="#222" stroke-width="0.14" >22.0</text>
<text x="148.30" y="337.10" font-size="5.5" text-anchor="middle" font-weight="bold" fill="#222" stroke="#222" stroke-width="0.14" >14.2</text>
<line x1="311.90" y1="193.40" x2="311.90" y2="309.00" stroke="#a8a8a8" stroke-width="1.5" />
<line x1="311.15" y1="309.00" x2="457.40" y2="309.00" stroke="#a8a8a8" stroke-width="1.3" />
<line x1="310.40" y1="303.60" x2="311.30" y2="303.60" stroke="#333" stroke-width="0.8" />
<text x="309.80" y="305.30" font-size="4.6" text-anchor="end" font-weight="normal" fill="#333" stroke="#333" stroke-width="0.14" >0%</text>
<line x1="310.40" y1="279.86" x2="311.30" y2="279.86" stroke="#333" stroke-width="0.8" />
<text x="309.80" y="281.56" font-size="4.6" text-anchor="end" font-weight="normal" fill="#333" stroke="#333" stroke-width="0.14" >25%</text>
<line x1="310.40" y1="256.12" x2="311.30" y2="256.12" stroke="#333" stroke-width="0.8" />
<text x="309.80" y="257.82" font-size="4.6" text-anchor="end" font-weight="normal" fill="#333" stroke="#333" stroke-width="0.14" >50%</text>
<line x1="310.40" y1="232.38" x2="311.30" y2="232.38" stroke="#333" stroke-width="0.8" />
<text x="309.80" y="234.08" font-size="4.6" text-anchor="end" font-weight="normal" fill="#333" stroke="#333" stroke-width="0.14" >75%</text>
<line x1="310.40" y1="208.64" x2="311.30" y2="208.64" stroke="#333" stroke-width="0.8" />
<text x="309.80" y="210.34" font-size="4.6" text-anchor="end" font-weight="normal" fill="#333" stroke="#333" stroke-width="0.14" >100%</text>
<line x1="330.60" y1="309.60" x2="330.60" y2="310.50" stroke="#333" stroke-width="0.8" />
<text x="330.60" y="314.80" font-size="4.8" text-anchor="middle" font-weight="normal" fill="#333" stroke="#333" stroke-width="0.14" >6</text>
<line x1="344.60" y1="309.60" x2="344.60" y2="310.50" stroke="#333" stroke-width="0.8" />
<text x="344.60" y="314.80" font-size="4.8" text-anchor="middle" font-weight="normal" fill="#333" stroke="#333" stroke-width="0.14" >13</text>
<line x1="358.60" y1="309.60" x2="358.60" y2="310.50" stroke="#333" stroke-width="0.8" />
<text x="358.60" y="314.80" font-size="4.8" text-anchor="middle" font-weight="normal" fill="#333" stroke="#333" stroke-width="0.14" >20</text>
<line x1="372.60" y1="309.60" x2="372.60" y2="310.50" stroke="#333" stroke-width="0.8" />
<text x="372.60" y="314.80" font-size="4.8" text-anchor="middle" font-weight="normal" fill="#333" stroke="#333" stroke-width="0.14" >27</text>
<line x1="386.60" y1="309.60" x2="386.60" y2="310.50" stroke="#333" stroke-width="0.8" />
<text x="386.60" y="314.80" font-size="4.8" text-anchor="middle" font-weight="normal" fill="#333" stroke="#333" stroke-width="0.14" >34</text>
<line x1="400.60" y1="309.60" x2="400.60" y2="310.50" stroke="#333" stroke-width="0.8" />
<text x="400.60" y="314.80" font-size="4.8" text-anchor="middle" font-weight="normal" fill="#333" stroke="#333" stroke-width="0.14" >41</text>
<line x1="414.60" y1="309.60" x2="414.60" y2="310.50" stroke="#333" stroke-width="0.8" />
<text x="414.60" y="314.80" font-size="4.8" text-anchor="middle" font-weight="normal" fill="#333" stroke="#333" stroke-width="0.14" >48</text>
<line x1="428.60" y1="309.60" x2="428.60" y2="310.50" stroke="#333" stroke-width="0.8" />
<text x="428.60" y="314.80" font-size="4.8" text-anchor="middle" font-weight="normal" fill="#333" stroke="#333" stroke-width="0.14" >55</text>
<line x1="442.60" y1="309.60" x2="442.60" y2="310.50" stroke="#333" stroke-width="0.8" />
<text x="442.60" y="314.80" font-size="4.8" text-anchor="middle" font-weight="normal" fill="#333" stroke="#333" stroke-width="0.14" >62</text>
<line x1="450.60" y1="309.60" x2="450.60" y2="310.50" stroke="#333" stroke-width="0.8" />
<text x="450.60" y="314.80" font-size="4.8" text-anchor="middle" font-weight="normal" fill="#333" stroke="#333" stroke-width="0.14" >66</text>
<text x="385.00" y="325.20" font-size="5.7" text-anchor="middle" font-weight="normal" fill="#333" stroke="#333" stroke-width="0.14" textLength="62" lengthAdjust="spacingAndGlyphs">Days after BC-3 injection</text>
<text x="295.60" y="251.20" font-size="5.7" text-anchor="middle" font-weight="normal" fill="#333" stroke="#333" stroke-width="0.14" textLength="19.8" lengthAdjust="spacingAndGlyphs" transform="rotate(-90 295.6 251.2)">Survival</text>
<path d="M320.6,208.64000000000004 L372.6,208.64000000000004 L372.6,303.6 L450.6,303.6" fill="none" stroke="#4e9fc4" stroke-width="1.6"/>
<path d="M320.6,208.64000000000004 L387.0,208.64000000000004 L387.0,256.12 L450.6,256.12" fill="none" stroke="#66c283" stroke-width="1.5" stroke-dasharray="6.5 3"/>
<path d="M320.6,208.64000000000004 L450.6,208.64000000000004" fill="none" stroke="#c8a838" stroke-width="1.5" stroke-dasharray="1.5 2.8"/>
<line x1="466.60" y1="239.60" x2="477.60" y2="239.60" stroke="#4e9fc4" stroke-width="1.5" />
<line x1="466.60" y1="252.40" x2="477.60" y2="252.40" stroke="#66c283" stroke-width="1.3" stroke-dasharray="6 3"/>
<line x1="466.60" y1="266.00" x2="477.60" y2="266.00" stroke="#c8a838" stroke-width="1.3" stroke-dasharray="1.4 2.9"/>
<text x="481.60" y="241.80" font-size="5.8" text-anchor="start" font-weight="normal" fill="#333" stroke="#333" stroke-width="0.14" textLength="46.4" lengthAdjust="spacingAndGlyphs">Engrafted + vehicle</text>
<text x="481.60" y="254.60" font-size="5.8" text-anchor="start" font-weight="normal" fill="#333" stroke="#333" stroke-width="0.14" textLength="37.5" lengthAdjust="spacingAndGlyphs">Engrafted + PQ</text>
<text x="481.60" y="268.20" font-size="5.8" text-anchor="start" font-weight="normal" fill="#333" stroke="#333" stroke-width="0.14" textLength="40.2" lengthAdjust="spacingAndGlyphs">Unengrafted + PQ</text>
<path d="M531.0,234.4 L533.9,234.4 L533.9,271.0 L531.0,271.0" fill="none" stroke="#a8a8a8" stroke-width="1.4"/>
<text x="538.36" y="255.46" font-size="4.3" font-weight="bold" letter-spacing="1.43" fill="#151515" stroke="#151515" stroke-width="0.5" stroke-linejoin="round">***</text>
</svg></body></html>
